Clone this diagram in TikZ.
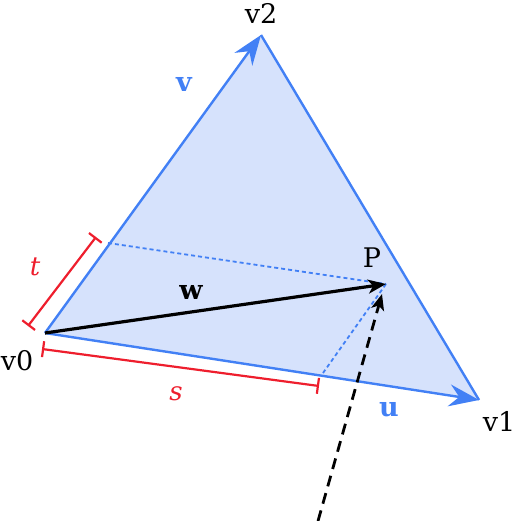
\documentclass[tikz,border=0pt]{standalone}
\usepackage{fontspec}
\setmainfont{DejaVu Serif}
\usetikzlibrary{arrows.meta}
\definecolor{edgeblue}{RGB}{66,128,245}
\definecolor{fillblue}{RGB}{214,226,252}
\definecolor{measred}{RGB}{238,30,45}
\newcommand{\bigtxt}{\fontsize{27pt}{31pt}\selectfont}
\newcommand{\meastxt}{\fontsize{26pt}{30pt}\selectfont\itshape}
\tikzset{
  edge/.style={draw=edgeblue, line width=2.4pt},
  vecarrow/.style={edge, -{Stealth[length=30pt,width=22pt,inset=10pt]}},
  helper/.style={draw=edgeblue, line width=1.8pt, dash pattern=on 4pt off 3pt},
  measure/.style={draw=measred, line width=2.2pt, {Bar[width=16pt]}-{Bar[width=16pt]}},
  lbl/.style={inner sep=0pt},
  veclbl/.style={lbl, text=edgeblue},
  measlbl/.style={lbl, text=measred}
}
\begin{document}
\begin{tikzpicture}[x=1pt,y=-1pt]
\useasboundingbox (0,0) rectangle (516,521);
\coordinate (v0) at (45,333);
\coordinate (v1) at (479,400);
\coordinate (v2) at (261,35);
\coordinate (P) at (386,284);
\coordinate (Pb) at (382,294);
\coordinate (tp) at (108,243);
\coordinate (sp) at (323,373);
\coordinate (Q) at (318,521);
\coordinate (ta) at (28,326);
\coordinate (tb) at (96,237);
\coordinate (sa) at (42,349);
\coordinate (sb) at (319,386);
\fill[fillblue] (v0) -- (v1) -- (v2) -- cycle;
\draw[helper] (tp) -- (P);
\draw[helper] (sp) -- (P);
\draw[edge] (v2) -- (v1);
\draw[vecarrow] (v0) -- (v1);
\draw[vecarrow] (v0) -- (v2);
\draw[line width=3.2pt, -{Stealth[length=18pt,width=14pt,inset=5pt]}] (v0) -- (P);
\draw[line width=2.8pt, dash pattern=on 11pt off 7pt, -{Stealth[length=16pt,width=13pt,inset=4pt]}] (Q) -- (Pb);
\draw[measure] (ta) -- (tb);
\draw[measure] (sa) -- (sb);
\node[lbl] (lv0) at (17,361) {\bigtxt v0};
\node[lbl] (lv1) at (499,421) {\bigtxt v1};
\node[lbl] (lv2) at (261,13) {\bigtxt v2};
\node[lbl] (lP) at (372,258) {\bigtxt P};
\node[lbl] (lw) at (191,292) {\bigtxt\bfseries w};
\node[veclbl] (lv) at (184,84) {\bigtxt\bfseries v};
\node[veclbl] (lu) at (389,410) {\bigtxt\bfseries u};
\node[measlbl] (lt) at (35,267) {\meastxt t};
\node[measlbl] (ls) at (176,394) {\meastxt s};
\end{tikzpicture}
\end{document}
